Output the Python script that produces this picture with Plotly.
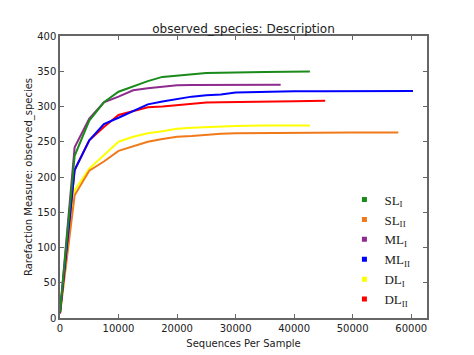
import plotly.graph_objects as go

depth = [0, 2500, 5000, 7500, 10000, 12500, 15000, 17500, 20000, 22500, 25000, 27500, 30000, 35000, 40000]

sl1_x = depth[:-2] + [35000, 42700]
sl1_y = [8, 230, 280, 306, 321, 329, 336, 342, 344, 346, 347.5, 348, 348.5, 349, 349.5]

sl2_x = depth + [45000, 50000, 57800]
sl2_y = [6, 174, 209, 222, 237, 243, 250, 254, 257, 258, 260, 261.5, 262, 262.5, 262.5, 263, 263, 263]

ml1_x = depth[:-2] + [35000, 37700]
ml1_y = [8, 242, 283, 306, 314, 323, 326, 328, 330, 330.5, 330.5, 331, 331, 331, 331]

ml2_x = depth + [45000, 50000, 55000, 60300]
ml2_y = [7, 210, 252, 275, 284, 293, 303, 307, 311, 314, 316, 317, 320, 321, 321.5, 321.5, 322, 322, 322]

dl1_x = depth[:-2] + [35000, 42700]
dl1_y = [6, 181, 212, 231, 250, 257, 262, 265, 268.5, 270, 271, 272, 272.5, 273, 273]

dl2_x = depth + [45300]
dl2_y = [7, 210, 252, 271, 288, 294, 299, 300, 302, 304, 305.5, 306, 306.5, 307, 307.5, 308]

names = ["SL<sub>I</sub>", "SL<sub>II</sub>", "ML<sub>I</sub>", "ML<sub>II</sub>", "DL<sub>I</sub>", "DL<sub>II</sub>"]
colors = ["#1a8a1a", "#f07a1a", "#8e2b8e", "#0000ff", "#ffff00", "#ff0000"]
series = [(sl1_x, sl1_y), (sl2_x, sl2_y), (ml1_x, ml1_y), (ml2_x, ml2_y), (dl1_x, dl1_y), (dl2_x, dl2_y)]

x_ticks = [0, 10000, 20000, 30000, 40000, 50000, 60000]
y_ticks = [0, 50, 100, 150, 200, 250, 300, 350, 400]

fig = go.Figure()
draw_order = [4, 1, 5, 3, 2, 0]
for i in draw_order:
    xs, ys = series[i]
    fig.add_trace(go.Scatter(x=xs, y=ys, mode="lines", line=dict(color=colors[i], width=2),
                             showlegend=False, hoverinfo="skip"))
for i in range(6):
    fig.add_trace(go.Scatter(x=[None], y=[None], mode="markers", name=names[i],
                             marker=dict(symbol="square", size=5, color=colors[i])))

axis_common = dict(showline=True, linecolor="#666666", linewidth=1.5, mirror="ticks",
                   ticks="inside", ticklen=4, tickcolor="#666666", showgrid=False, zeroline=False,
                   automargin=False,
                   tickfont=dict(family="DejaVu Sans", size=10, color="#222222"))

fig.update_layout(
    width=474, height=355,
    margin=dict(l=52, r=55, t=28, b=45),
    paper_bgcolor="white", plot_bgcolor="white",
    title=dict(text="observed_species: Description", x=0.5, xref="paper", xanchor="center",
               y=0.93, yanchor="bottom", yref="container",
               font=dict(family="DejaVu Sans", size=12, color="#222222")),
    xaxis=dict(range=[0, 62700], tickvals=x_ticks, ticktext=[str(v) for v in x_ticks],
               title=dict(text="Sequences Per Sample", standoff=7,
                          font=dict(family="DejaVu Sans", size=10, color="#222222")),
               **axis_common),
    yaxis=dict(range=[0, 400], tickvals=y_ticks, ticktext=[str(v) for v in y_ticks],
               title=dict(text="Rarefaction Measure: observed_species", standoff=3,
                          font=dict(family="DejaVu Sans", size=10, color="#222222")),
               **axis_common),
    legend=dict(x=0.775, y=0.012, xanchor="left", yanchor="bottom", bgcolor="rgba(0,0,0,0)",
                font=dict(family="Liberation Serif", size=13, color="#222222"),
                itemsizing="trace", itemwidth=30),
)

fig.write_html("out.html")
